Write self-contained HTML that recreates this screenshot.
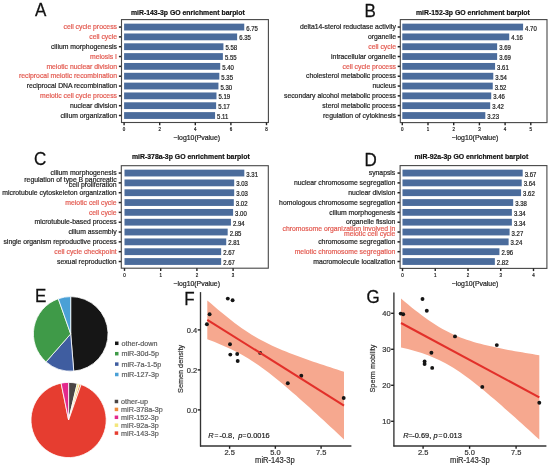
<!DOCTYPE html>
<html><head><meta charset="utf-8"><style>
html,body{margin:0;padding:0;background:#fff;width:550px;height:468px;overflow:hidden}
svg{display:block;will-change:transform;font-family:"Liberation Sans", sans-serif}
</style></head><body>
<svg width="550" height="468" viewBox="0 0 550 468">
<rect width="550" height="468" fill="#fff"/>
<rect x="124.10" y="23.65" width="120.15" height="6.80" fill="#4b6c9c"/>
<text x="0" y="0" transform="translate(246.25,30.60) scale(1,1.08)" font-size="6.0" fill="#1e1e1e" stroke="#1e1e1e" stroke-width="0.2" text-anchor="start" font-weight="normal" >6.75</text>
<line x1="118.90" y1="27.05" x2="121.50" y2="27.05" stroke="#222" stroke-width="1.5"/>
<text x="0" y="0" transform="translate(117.00,29.25) scale(1,1.08)" font-size="6.85" fill="#e35a50" stroke="#e35a50" stroke-width="0.2" text-anchor="end" font-weight="normal" >cell cycle process</text>
<rect x="124.10" y="33.48" width="113.03" height="6.80" fill="#4b6c9c"/>
<text x="0" y="0" transform="translate(239.13,40.43) scale(1,1.08)" font-size="6.0" fill="#1e1e1e" stroke="#1e1e1e" stroke-width="0.2" text-anchor="start" font-weight="normal" >6.35</text>
<line x1="118.90" y1="36.88" x2="121.50" y2="36.88" stroke="#222" stroke-width="1.5"/>
<text x="0" y="0" transform="translate(117.00,39.08) scale(1,1.08)" font-size="6.85" fill="#e35a50" stroke="#e35a50" stroke-width="0.2" text-anchor="end" font-weight="normal" >cell cycle</text>
<rect x="124.10" y="43.31" width="99.32" height="6.80" fill="#4b6c9c"/>
<text x="0" y="0" transform="translate(225.42,50.26) scale(1,1.08)" font-size="6.0" fill="#1e1e1e" stroke="#1e1e1e" stroke-width="0.2" text-anchor="start" font-weight="normal" >5.58</text>
<line x1="118.90" y1="46.71" x2="121.50" y2="46.71" stroke="#222" stroke-width="1.5"/>
<text x="0" y="0" transform="translate(117.00,48.91) scale(1,1.08)" font-size="6.85" fill="#1e1e1e" stroke="#1e1e1e" stroke-width="0.2" text-anchor="end" font-weight="normal" >cilium morphogenesis</text>
<rect x="124.10" y="53.14" width="98.79" height="6.80" fill="#4b6c9c"/>
<text x="0" y="0" transform="translate(224.89,60.09) scale(1,1.08)" font-size="6.0" fill="#1e1e1e" stroke="#1e1e1e" stroke-width="0.2" text-anchor="start" font-weight="normal" >5.55</text>
<line x1="118.90" y1="56.54" x2="121.50" y2="56.54" stroke="#222" stroke-width="1.5"/>
<text x="0" y="0" transform="translate(117.00,58.74) scale(1,1.08)" font-size="6.85" fill="#e35a50" stroke="#e35a50" stroke-width="0.2" text-anchor="end" font-weight="normal" >meiosis I</text>
<rect x="124.10" y="62.97" width="96.12" height="6.80" fill="#4b6c9c"/>
<text x="0" y="0" transform="translate(222.22,69.92) scale(1,1.08)" font-size="6.0" fill="#1e1e1e" stroke="#1e1e1e" stroke-width="0.2" text-anchor="start" font-weight="normal" >5.40</text>
<line x1="118.90" y1="66.37" x2="121.50" y2="66.37" stroke="#222" stroke-width="1.5"/>
<text x="0" y="0" transform="translate(117.00,68.57) scale(1,1.08)" font-size="6.85" fill="#e35a50" stroke="#e35a50" stroke-width="0.2" text-anchor="end" font-weight="normal" >meiotic nuclear division</text>
<rect x="124.10" y="72.80" width="95.23" height="6.80" fill="#4b6c9c"/>
<text x="0" y="0" transform="translate(221.33,79.75) scale(1,1.08)" font-size="6.0" fill="#1e1e1e" stroke="#1e1e1e" stroke-width="0.2" text-anchor="start" font-weight="normal" >5.35</text>
<line x1="118.90" y1="76.20" x2="121.50" y2="76.20" stroke="#222" stroke-width="1.5"/>
<text x="0" y="0" transform="translate(117.00,78.40) scale(1,1.08)" font-size="6.85" fill="#e35a50" stroke="#e35a50" stroke-width="0.2" text-anchor="end" font-weight="normal" >reciprocal meiotic recombination</text>
<rect x="124.10" y="82.63" width="94.34" height="6.80" fill="#4b6c9c"/>
<text x="0" y="0" transform="translate(220.44,89.58) scale(1,1.08)" font-size="6.0" fill="#1e1e1e" stroke="#1e1e1e" stroke-width="0.2" text-anchor="start" font-weight="normal" >5.30</text>
<line x1="118.90" y1="86.03" x2="121.50" y2="86.03" stroke="#222" stroke-width="1.5"/>
<text x="0" y="0" transform="translate(117.00,88.23) scale(1,1.08)" font-size="6.85" fill="#1e1e1e" stroke="#1e1e1e" stroke-width="0.2" text-anchor="end" font-weight="normal" >reciprocal DNA recombination</text>
<rect x="124.10" y="92.46" width="92.38" height="6.80" fill="#4b6c9c"/>
<text x="0" y="0" transform="translate(218.48,99.41) scale(1,1.08)" font-size="6.0" fill="#1e1e1e" stroke="#1e1e1e" stroke-width="0.2" text-anchor="start" font-weight="normal" >5.19</text>
<line x1="118.90" y1="95.86" x2="121.50" y2="95.86" stroke="#222" stroke-width="1.5"/>
<text x="0" y="0" transform="translate(117.00,98.06) scale(1,1.08)" font-size="6.85" fill="#e35a50" stroke="#e35a50" stroke-width="0.2" text-anchor="end" font-weight="normal" >meiotic cell cycle process</text>
<rect x="124.10" y="102.29" width="92.03" height="6.80" fill="#4b6c9c"/>
<text x="0" y="0" transform="translate(218.13,109.24) scale(1,1.08)" font-size="6.0" fill="#1e1e1e" stroke="#1e1e1e" stroke-width="0.2" text-anchor="start" font-weight="normal" >5.17</text>
<line x1="118.90" y1="105.69" x2="121.50" y2="105.69" stroke="#222" stroke-width="1.5"/>
<text x="0" y="0" transform="translate(117.00,107.89) scale(1,1.08)" font-size="6.85" fill="#1e1e1e" stroke="#1e1e1e" stroke-width="0.2" text-anchor="end" font-weight="normal" >nuclear division</text>
<rect x="124.10" y="112.12" width="90.96" height="6.80" fill="#4b6c9c"/>
<text x="0" y="0" transform="translate(217.06,119.07) scale(1,1.08)" font-size="6.0" fill="#1e1e1e" stroke="#1e1e1e" stroke-width="0.2" text-anchor="start" font-weight="normal" >5.11</text>
<line x1="118.90" y1="115.52" x2="121.50" y2="115.52" stroke="#222" stroke-width="1.5"/>
<text x="0" y="0" transform="translate(117.00,117.72) scale(1,1.08)" font-size="6.85" fill="#1e1e1e" stroke="#1e1e1e" stroke-width="0.2" text-anchor="end" font-weight="normal" >cilium organization</text>
<rect x="121.50" y="19.60" width="146.90" height="102.90" fill="none" stroke="#474747" stroke-width="1.1"/>
<line x1="124.10" y1="122.50" x2="124.10" y2="125.20" stroke="#222" stroke-width="1.4"/>
<text x="0" y="0" transform="translate(124.10,130.60) scale(1,1.08)" font-size="4.5" fill="#1e1e1e" stroke="#1e1e1e" stroke-width="0.2" text-anchor="middle" font-weight="normal" >0</text>
<line x1="159.70" y1="122.50" x2="159.70" y2="125.20" stroke="#222" stroke-width="1.4"/>
<text x="0" y="0" transform="translate(159.70,130.60) scale(1,1.08)" font-size="4.5" fill="#1e1e1e" stroke="#1e1e1e" stroke-width="0.2" text-anchor="middle" font-weight="normal" >2</text>
<line x1="195.30" y1="122.50" x2="195.30" y2="125.20" stroke="#222" stroke-width="1.4"/>
<text x="0" y="0" transform="translate(195.30,130.60) scale(1,1.08)" font-size="4.5" fill="#1e1e1e" stroke="#1e1e1e" stroke-width="0.2" text-anchor="middle" font-weight="normal" >4</text>
<line x1="230.90" y1="122.50" x2="230.90" y2="125.20" stroke="#222" stroke-width="1.4"/>
<text x="0" y="0" transform="translate(230.90,130.60) scale(1,1.08)" font-size="4.5" fill="#1e1e1e" stroke="#1e1e1e" stroke-width="0.2" text-anchor="middle" font-weight="normal" >6</text>
<line x1="266.50" y1="122.50" x2="266.50" y2="125.20" stroke="#222" stroke-width="1.4"/>
<text x="0" y="0" transform="translate(266.50,130.60) scale(1,1.08)" font-size="4.5" fill="#1e1e1e" stroke="#1e1e1e" stroke-width="0.2" text-anchor="middle" font-weight="normal" >8</text>
<text x="0" y="0" transform="translate(196.80,140.20) scale(1,1.08)" font-size="6.9" fill="#1e1e1e" stroke="#1e1e1e" stroke-width="0.2" text-anchor="middle" font-weight="normal" >−log10(Pvalue)</text>
<text x="0" y="0" transform="translate(130.90,15.30) scale(1,1.08)" font-size="6.88" fill="#111" stroke="#111" stroke-width="0.2" text-anchor="start" font-weight="bold" >miR-143-3p GO enrichment barplot</text>
<rect x="402.30" y="23.65" width="120.79" height="6.80" fill="#4b6c9c"/>
<text x="0" y="0" transform="translate(525.09,30.60) scale(1,1.08)" font-size="6.0" fill="#1e1e1e" stroke="#1e1e1e" stroke-width="0.2" text-anchor="start" font-weight="normal" >4.70</text>
<line x1="397.70" y1="27.05" x2="400.30" y2="27.05" stroke="#222" stroke-width="1.5"/>
<text x="0" y="0" transform="translate(396.00,29.25) scale(1,1.08)" font-size="6.85" fill="#1e1e1e" stroke="#1e1e1e" stroke-width="0.2" text-anchor="end" font-weight="normal" >delta14-sterol reductase activity</text>
<rect x="402.30" y="33.48" width="106.91" height="6.80" fill="#4b6c9c"/>
<text x="0" y="0" transform="translate(511.21,40.43) scale(1,1.08)" font-size="6.0" fill="#1e1e1e" stroke="#1e1e1e" stroke-width="0.2" text-anchor="start" font-weight="normal" >4.16</text>
<line x1="397.70" y1="36.88" x2="400.30" y2="36.88" stroke="#222" stroke-width="1.5"/>
<text x="0" y="0" transform="translate(396.00,39.08) scale(1,1.08)" font-size="6.85" fill="#1e1e1e" stroke="#1e1e1e" stroke-width="0.2" text-anchor="end" font-weight="normal" >organelle</text>
<rect x="402.30" y="43.31" width="94.83" height="6.80" fill="#4b6c9c"/>
<text x="0" y="0" transform="translate(499.13,50.26) scale(1,1.08)" font-size="6.0" fill="#1e1e1e" stroke="#1e1e1e" stroke-width="0.2" text-anchor="start" font-weight="normal" >3.69</text>
<line x1="397.70" y1="46.71" x2="400.30" y2="46.71" stroke="#222" stroke-width="1.5"/>
<text x="0" y="0" transform="translate(396.00,48.91) scale(1,1.08)" font-size="6.85" fill="#e35a50" stroke="#e35a50" stroke-width="0.2" text-anchor="end" font-weight="normal" >cell cycle</text>
<rect x="402.30" y="53.14" width="94.83" height="6.80" fill="#4b6c9c"/>
<text x="0" y="0" transform="translate(499.13,60.09) scale(1,1.08)" font-size="6.0" fill="#1e1e1e" stroke="#1e1e1e" stroke-width="0.2" text-anchor="start" font-weight="normal" >3.69</text>
<line x1="397.70" y1="56.54" x2="400.30" y2="56.54" stroke="#222" stroke-width="1.5"/>
<text x="0" y="0" transform="translate(396.00,58.74) scale(1,1.08)" font-size="6.85" fill="#1e1e1e" stroke="#1e1e1e" stroke-width="0.2" text-anchor="end" font-weight="normal" >intracellular organelle</text>
<rect x="402.30" y="62.97" width="92.78" height="6.80" fill="#4b6c9c"/>
<text x="0" y="0" transform="translate(497.08,69.92) scale(1,1.08)" font-size="6.0" fill="#1e1e1e" stroke="#1e1e1e" stroke-width="0.2" text-anchor="start" font-weight="normal" >3.61</text>
<line x1="397.70" y1="66.37" x2="400.30" y2="66.37" stroke="#222" stroke-width="1.5"/>
<text x="0" y="0" transform="translate(396.00,68.57) scale(1,1.08)" font-size="6.85" fill="#e35a50" stroke="#e35a50" stroke-width="0.2" text-anchor="end" font-weight="normal" >cell cycle process</text>
<rect x="402.30" y="72.80" width="90.98" height="6.80" fill="#4b6c9c"/>
<text x="0" y="0" transform="translate(495.28,79.75) scale(1,1.08)" font-size="6.0" fill="#1e1e1e" stroke="#1e1e1e" stroke-width="0.2" text-anchor="start" font-weight="normal" >3.54</text>
<line x1="397.70" y1="76.20" x2="400.30" y2="76.20" stroke="#222" stroke-width="1.5"/>
<text x="0" y="0" transform="translate(396.00,78.40) scale(1,1.08)" font-size="6.85" fill="#1e1e1e" stroke="#1e1e1e" stroke-width="0.2" text-anchor="end" font-weight="normal" >cholesterol metabolic process</text>
<rect x="402.30" y="82.63" width="90.46" height="6.80" fill="#4b6c9c"/>
<text x="0" y="0" transform="translate(494.76,89.58) scale(1,1.08)" font-size="6.0" fill="#1e1e1e" stroke="#1e1e1e" stroke-width="0.2" text-anchor="start" font-weight="normal" >3.52</text>
<line x1="397.70" y1="86.03" x2="400.30" y2="86.03" stroke="#222" stroke-width="1.5"/>
<text x="0" y="0" transform="translate(396.00,88.23) scale(1,1.08)" font-size="6.85" fill="#1e1e1e" stroke="#1e1e1e" stroke-width="0.2" text-anchor="end" font-weight="normal" >nucleus</text>
<rect x="402.30" y="92.46" width="88.92" height="6.80" fill="#4b6c9c"/>
<text x="0" y="0" transform="translate(493.22,99.41) scale(1,1.08)" font-size="6.0" fill="#1e1e1e" stroke="#1e1e1e" stroke-width="0.2" text-anchor="start" font-weight="normal" >3.46</text>
<line x1="397.70" y1="95.86" x2="400.30" y2="95.86" stroke="#222" stroke-width="1.5"/>
<text x="0" y="0" transform="translate(396.00,98.06) scale(1,1.08)" font-size="6.85" fill="#1e1e1e" stroke="#1e1e1e" stroke-width="0.2" text-anchor="end" font-weight="normal" >secondary alcohol metabolic process</text>
<rect x="402.30" y="102.29" width="87.89" height="6.80" fill="#4b6c9c"/>
<text x="0" y="0" transform="translate(492.19,109.24) scale(1,1.08)" font-size="6.0" fill="#1e1e1e" stroke="#1e1e1e" stroke-width="0.2" text-anchor="start" font-weight="normal" >3.42</text>
<line x1="397.70" y1="105.69" x2="400.30" y2="105.69" stroke="#222" stroke-width="1.5"/>
<text x="0" y="0" transform="translate(396.00,107.89) scale(1,1.08)" font-size="6.85" fill="#1e1e1e" stroke="#1e1e1e" stroke-width="0.2" text-anchor="end" font-weight="normal" >sterol metabolic process</text>
<rect x="402.30" y="112.12" width="83.01" height="6.80" fill="#4b6c9c"/>
<text x="0" y="0" transform="translate(487.31,119.07) scale(1,1.08)" font-size="6.0" fill="#1e1e1e" stroke="#1e1e1e" stroke-width="0.2" text-anchor="start" font-weight="normal" >3.23</text>
<line x1="397.70" y1="115.52" x2="400.30" y2="115.52" stroke="#222" stroke-width="1.5"/>
<text x="0" y="0" transform="translate(396.00,117.72) scale(1,1.08)" font-size="6.85" fill="#1e1e1e" stroke="#1e1e1e" stroke-width="0.2" text-anchor="end" font-weight="normal" >regulation of cytokinesis</text>
<rect x="400.30" y="19.60" width="146.70" height="103.00" fill="none" stroke="#474747" stroke-width="1.1"/>
<line x1="402.30" y1="122.60" x2="402.30" y2="125.30" stroke="#222" stroke-width="1.4"/>
<text x="0" y="0" transform="translate(402.30,130.60) scale(1,1.08)" font-size="4.5" fill="#1e1e1e" stroke="#1e1e1e" stroke-width="0.2" text-anchor="middle" font-weight="normal" >0</text>
<line x1="428.00" y1="122.60" x2="428.00" y2="125.30" stroke="#222" stroke-width="1.4"/>
<text x="0" y="0" transform="translate(428.00,130.60) scale(1,1.08)" font-size="4.5" fill="#1e1e1e" stroke="#1e1e1e" stroke-width="0.2" text-anchor="middle" font-weight="normal" >1</text>
<line x1="453.70" y1="122.60" x2="453.70" y2="125.30" stroke="#222" stroke-width="1.4"/>
<text x="0" y="0" transform="translate(453.70,130.60) scale(1,1.08)" font-size="4.5" fill="#1e1e1e" stroke="#1e1e1e" stroke-width="0.2" text-anchor="middle" font-weight="normal" >2</text>
<line x1="479.40" y1="122.60" x2="479.40" y2="125.30" stroke="#222" stroke-width="1.4"/>
<text x="0" y="0" transform="translate(479.40,130.60) scale(1,1.08)" font-size="4.5" fill="#1e1e1e" stroke="#1e1e1e" stroke-width="0.2" text-anchor="middle" font-weight="normal" >3</text>
<line x1="505.10" y1="122.60" x2="505.10" y2="125.30" stroke="#222" stroke-width="1.4"/>
<text x="0" y="0" transform="translate(505.10,130.60) scale(1,1.08)" font-size="4.5" fill="#1e1e1e" stroke="#1e1e1e" stroke-width="0.2" text-anchor="middle" font-weight="normal" >4</text>
<line x1="530.80" y1="122.60" x2="530.80" y2="125.30" stroke="#222" stroke-width="1.4"/>
<text x="0" y="0" transform="translate(530.80,130.60) scale(1,1.08)" font-size="4.5" fill="#1e1e1e" stroke="#1e1e1e" stroke-width="0.2" text-anchor="middle" font-weight="normal" >5</text>
<text x="0" y="0" transform="translate(475.00,140.20) scale(1,1.08)" font-size="6.9" fill="#1e1e1e" stroke="#1e1e1e" stroke-width="0.2" text-anchor="middle" font-weight="normal" >−log10(Pvalue)</text>
<text x="0" y="0" transform="translate(416.00,15.30) scale(1,1.08)" font-size="6.88" fill="#111" stroke="#111" stroke-width="0.2" text-anchor="start" font-weight="bold" >miR-152-3p GO enrichment barplot</text>
<rect x="124.50" y="169.65" width="119.82" height="6.80" fill="#4b6c9c"/>
<text x="0" y="0" transform="translate(246.32,176.60) scale(1,1.08)" font-size="6.0" fill="#1e1e1e" stroke="#1e1e1e" stroke-width="0.2" text-anchor="start" font-weight="normal" >3.31</text>
<line x1="118.70" y1="173.05" x2="121.30" y2="173.05" stroke="#222" stroke-width="1.5"/>
<text x="0" y="0" transform="translate(116.60,175.25) scale(1,1.08)" font-size="6.85" fill="#1e1e1e" stroke="#1e1e1e" stroke-width="0.2" text-anchor="end" font-weight="normal" >cilium morphogenesis</text>
<rect x="124.50" y="179.48" width="109.69" height="6.80" fill="#4b6c9c"/>
<text x="0" y="0" transform="translate(236.19,186.43) scale(1,1.08)" font-size="6.0" fill="#1e1e1e" stroke="#1e1e1e" stroke-width="0.2" text-anchor="start" font-weight="normal" >3.03</text>
<line x1="118.70" y1="182.88" x2="121.30" y2="182.88" stroke="#222" stroke-width="1.5"/>
<text x="0" y="0" transform="translate(116.60,181.53) scale(1,1.08)" font-size="6.85" fill="#1e1e1e" stroke="#1e1e1e" stroke-width="0.2" text-anchor="end" font-weight="normal" >regulation of type B pancreatic</text>
<text x="0" y="0" transform="translate(116.60,187.23) scale(1,1.08)" font-size="6.85" fill="#1e1e1e" stroke="#1e1e1e" stroke-width="0.2" text-anchor="end" font-weight="normal" >cell proliferation</text>
<rect x="124.50" y="189.31" width="109.69" height="6.80" fill="#4b6c9c"/>
<text x="0" y="0" transform="translate(236.19,196.26) scale(1,1.08)" font-size="6.0" fill="#1e1e1e" stroke="#1e1e1e" stroke-width="0.2" text-anchor="start" font-weight="normal" >3.03</text>
<line x1="118.70" y1="192.71" x2="121.30" y2="192.71" stroke="#222" stroke-width="1.5"/>
<text x="0" y="0" transform="translate(116.60,194.91) scale(1,1.08)" font-size="6.85" fill="#1e1e1e" stroke="#1e1e1e" stroke-width="0.2" text-anchor="end" font-weight="normal" >microtubule cytoskeleton organization</text>
<rect x="124.50" y="199.14" width="109.32" height="6.80" fill="#4b6c9c"/>
<text x="0" y="0" transform="translate(235.82,206.09) scale(1,1.08)" font-size="6.0" fill="#1e1e1e" stroke="#1e1e1e" stroke-width="0.2" text-anchor="start" font-weight="normal" >3.02</text>
<line x1="118.70" y1="202.54" x2="121.30" y2="202.54" stroke="#222" stroke-width="1.5"/>
<text x="0" y="0" transform="translate(116.60,204.74) scale(1,1.08)" font-size="6.85" fill="#e35a50" stroke="#e35a50" stroke-width="0.2" text-anchor="end" font-weight="normal" >meiotic cell cycle</text>
<rect x="124.50" y="208.97" width="108.60" height="6.80" fill="#4b6c9c"/>
<text x="0" y="0" transform="translate(235.10,215.92) scale(1,1.08)" font-size="6.0" fill="#1e1e1e" stroke="#1e1e1e" stroke-width="0.2" text-anchor="start" font-weight="normal" >3.00</text>
<line x1="118.70" y1="212.37" x2="121.30" y2="212.37" stroke="#222" stroke-width="1.5"/>
<text x="0" y="0" transform="translate(116.60,214.57) scale(1,1.08)" font-size="6.85" fill="#e35a50" stroke="#e35a50" stroke-width="0.2" text-anchor="end" font-weight="normal" >cell cycle</text>
<rect x="124.50" y="218.80" width="106.43" height="6.80" fill="#4b6c9c"/>
<text x="0" y="0" transform="translate(232.93,225.75) scale(1,1.08)" font-size="6.0" fill="#1e1e1e" stroke="#1e1e1e" stroke-width="0.2" text-anchor="start" font-weight="normal" >2.94</text>
<line x1="118.70" y1="222.20" x2="121.30" y2="222.20" stroke="#222" stroke-width="1.5"/>
<text x="0" y="0" transform="translate(116.60,224.40) scale(1,1.08)" font-size="6.85" fill="#1e1e1e" stroke="#1e1e1e" stroke-width="0.2" text-anchor="end" font-weight="normal" >microtubule-based process</text>
<rect x="124.50" y="228.63" width="103.17" height="6.80" fill="#4b6c9c"/>
<text x="0" y="0" transform="translate(229.67,235.58) scale(1,1.08)" font-size="6.0" fill="#1e1e1e" stroke="#1e1e1e" stroke-width="0.2" text-anchor="start" font-weight="normal" >2.85</text>
<line x1="118.70" y1="232.03" x2="121.30" y2="232.03" stroke="#222" stroke-width="1.5"/>
<text x="0" y="0" transform="translate(116.60,234.23) scale(1,1.08)" font-size="6.85" fill="#1e1e1e" stroke="#1e1e1e" stroke-width="0.2" text-anchor="end" font-weight="normal" >cilium assembly</text>
<rect x="124.50" y="238.46" width="101.72" height="6.80" fill="#4b6c9c"/>
<text x="0" y="0" transform="translate(228.22,245.41) scale(1,1.08)" font-size="6.0" fill="#1e1e1e" stroke="#1e1e1e" stroke-width="0.2" text-anchor="start" font-weight="normal" >2.81</text>
<line x1="118.70" y1="241.86" x2="121.30" y2="241.86" stroke="#222" stroke-width="1.5"/>
<text x="0" y="0" transform="translate(116.60,244.06) scale(1,1.08)" font-size="6.85" fill="#1e1e1e" stroke="#1e1e1e" stroke-width="0.2" text-anchor="end" font-weight="normal" >single organism reproductive process</text>
<rect x="124.50" y="248.29" width="96.65" height="6.80" fill="#4b6c9c"/>
<text x="0" y="0" transform="translate(223.15,255.24) scale(1,1.08)" font-size="6.0" fill="#1e1e1e" stroke="#1e1e1e" stroke-width="0.2" text-anchor="start" font-weight="normal" >2.67</text>
<line x1="118.70" y1="251.69" x2="121.30" y2="251.69" stroke="#222" stroke-width="1.5"/>
<text x="0" y="0" transform="translate(116.60,253.89) scale(1,1.08)" font-size="6.85" fill="#e35a50" stroke="#e35a50" stroke-width="0.2" text-anchor="end" font-weight="normal" >cell cycle checkpoint</text>
<rect x="124.50" y="258.12" width="96.65" height="6.80" fill="#4b6c9c"/>
<text x="0" y="0" transform="translate(223.15,265.07) scale(1,1.08)" font-size="6.0" fill="#1e1e1e" stroke="#1e1e1e" stroke-width="0.2" text-anchor="start" font-weight="normal" >2.67</text>
<line x1="118.70" y1="261.52" x2="121.30" y2="261.52" stroke="#222" stroke-width="1.5"/>
<text x="0" y="0" transform="translate(116.60,263.72) scale(1,1.08)" font-size="6.85" fill="#1e1e1e" stroke="#1e1e1e" stroke-width="0.2" text-anchor="end" font-weight="normal" >sexual reproduction</text>
<rect x="121.30" y="165.70" width="147.00" height="102.50" fill="none" stroke="#474747" stroke-width="1.1"/>
<line x1="124.50" y1="268.20" x2="124.50" y2="270.90" stroke="#222" stroke-width="1.4"/>
<text x="0" y="0" transform="translate(124.50,276.50) scale(1,1.08)" font-size="4.5" fill="#1e1e1e" stroke="#1e1e1e" stroke-width="0.2" text-anchor="middle" font-weight="normal" >0</text>
<line x1="160.70" y1="268.20" x2="160.70" y2="270.90" stroke="#222" stroke-width="1.4"/>
<text x="0" y="0" transform="translate(160.70,276.50) scale(1,1.08)" font-size="4.5" fill="#1e1e1e" stroke="#1e1e1e" stroke-width="0.2" text-anchor="middle" font-weight="normal" >1</text>
<line x1="196.90" y1="268.20" x2="196.90" y2="270.90" stroke="#222" stroke-width="1.4"/>
<text x="0" y="0" transform="translate(196.90,276.50) scale(1,1.08)" font-size="4.5" fill="#1e1e1e" stroke="#1e1e1e" stroke-width="0.2" text-anchor="middle" font-weight="normal" >2</text>
<line x1="233.10" y1="268.20" x2="233.10" y2="270.90" stroke="#222" stroke-width="1.4"/>
<text x="0" y="0" transform="translate(233.10,276.50) scale(1,1.08)" font-size="4.5" fill="#1e1e1e" stroke="#1e1e1e" stroke-width="0.2" text-anchor="middle" font-weight="normal" >3</text>
<text x="0" y="0" transform="translate(196.70,286.00) scale(1,1.08)" font-size="6.9" fill="#1e1e1e" stroke="#1e1e1e" stroke-width="0.2" text-anchor="middle" font-weight="normal" >−log10(Pvalue)</text>
<text x="0" y="0" transform="translate(132.00,158.90) scale(1,1.08)" font-size="6.88" fill="#111" stroke="#111" stroke-width="0.2" text-anchor="start" font-weight="bold" >miR-378a-3p GO enrichment barplot</text>
<rect x="402.50" y="169.65" width="120.19" height="6.80" fill="#4b6c9c"/>
<text x="0" y="0" transform="translate(524.69,176.60) scale(1,1.08)" font-size="6.0" fill="#1e1e1e" stroke="#1e1e1e" stroke-width="0.2" text-anchor="start" font-weight="normal" >3.67</text>
<line x1="397.50" y1="173.05" x2="400.10" y2="173.05" stroke="#222" stroke-width="1.5"/>
<text x="0" y="0" transform="translate(395.30,175.25) scale(1,1.08)" font-size="6.85" fill="#1e1e1e" stroke="#1e1e1e" stroke-width="0.2" text-anchor="end" font-weight="normal" >synapsis</text>
<rect x="402.50" y="179.48" width="119.21" height="6.80" fill="#4b6c9c"/>
<text x="0" y="0" transform="translate(523.71,186.43) scale(1,1.08)" font-size="6.0" fill="#1e1e1e" stroke="#1e1e1e" stroke-width="0.2" text-anchor="start" font-weight="normal" >3.64</text>
<line x1="397.50" y1="182.88" x2="400.10" y2="182.88" stroke="#222" stroke-width="1.5"/>
<text x="0" y="0" transform="translate(395.30,185.08) scale(1,1.08)" font-size="6.85" fill="#1e1e1e" stroke="#1e1e1e" stroke-width="0.2" text-anchor="end" font-weight="normal" >nuclear chromosome segregation</text>
<rect x="402.50" y="189.31" width="118.56" height="6.80" fill="#4b6c9c"/>
<text x="0" y="0" transform="translate(523.06,196.26) scale(1,1.08)" font-size="6.0" fill="#1e1e1e" stroke="#1e1e1e" stroke-width="0.2" text-anchor="start" font-weight="normal" >3.62</text>
<line x1="397.50" y1="192.71" x2="400.10" y2="192.71" stroke="#222" stroke-width="1.5"/>
<text x="0" y="0" transform="translate(395.30,194.91) scale(1,1.08)" font-size="6.85" fill="#1e1e1e" stroke="#1e1e1e" stroke-width="0.2" text-anchor="end" font-weight="normal" >nuclear division</text>
<rect x="402.50" y="199.14" width="110.69" height="6.80" fill="#4b6c9c"/>
<text x="0" y="0" transform="translate(515.19,206.09) scale(1,1.08)" font-size="6.0" fill="#1e1e1e" stroke="#1e1e1e" stroke-width="0.2" text-anchor="start" font-weight="normal" >3.38</text>
<line x1="397.50" y1="202.54" x2="400.10" y2="202.54" stroke="#222" stroke-width="1.5"/>
<text x="0" y="0" transform="translate(395.30,204.74) scale(1,1.08)" font-size="6.85" fill="#1e1e1e" stroke="#1e1e1e" stroke-width="0.2" text-anchor="end" font-weight="normal" >homologous chromosome segregation</text>
<rect x="402.50" y="208.97" width="109.38" height="6.80" fill="#4b6c9c"/>
<text x="0" y="0" transform="translate(513.88,215.92) scale(1,1.08)" font-size="6.0" fill="#1e1e1e" stroke="#1e1e1e" stroke-width="0.2" text-anchor="start" font-weight="normal" >3.34</text>
<line x1="397.50" y1="212.37" x2="400.10" y2="212.37" stroke="#222" stroke-width="1.5"/>
<text x="0" y="0" transform="translate(395.30,214.57) scale(1,1.08)" font-size="6.85" fill="#1e1e1e" stroke="#1e1e1e" stroke-width="0.2" text-anchor="end" font-weight="normal" >cilium morphogenesis</text>
<rect x="402.50" y="218.80" width="109.38" height="6.80" fill="#4b6c9c"/>
<text x="0" y="0" transform="translate(513.88,225.75) scale(1,1.08)" font-size="6.0" fill="#1e1e1e" stroke="#1e1e1e" stroke-width="0.2" text-anchor="start" font-weight="normal" >3.34</text>
<line x1="397.50" y1="222.20" x2="400.10" y2="222.20" stroke="#222" stroke-width="1.5"/>
<text x="0" y="0" transform="translate(395.30,224.40) scale(1,1.08)" font-size="6.85" fill="#1e1e1e" stroke="#1e1e1e" stroke-width="0.2" text-anchor="end" font-weight="normal" >organelle fission</text>
<rect x="402.50" y="228.63" width="107.09" height="6.80" fill="#4b6c9c"/>
<text x="0" y="0" transform="translate(511.59,235.58) scale(1,1.08)" font-size="6.0" fill="#1e1e1e" stroke="#1e1e1e" stroke-width="0.2" text-anchor="start" font-weight="normal" >3.27</text>
<line x1="397.50" y1="232.03" x2="400.10" y2="232.03" stroke="#222" stroke-width="1.5"/>
<text x="0" y="0" transform="translate(395.30,230.68) scale(1,1.08)" font-size="6.85" fill="#e35a50" stroke="#e35a50" stroke-width="0.2" text-anchor="end" font-weight="normal" >chromosome organization involved in</text>
<text x="0" y="0" transform="translate(395.30,236.38) scale(1,1.08)" font-size="6.85" fill="#e35a50" stroke="#e35a50" stroke-width="0.2" text-anchor="end" font-weight="normal" >meiotic cell cycle</text>
<rect x="402.50" y="238.46" width="106.11" height="6.80" fill="#4b6c9c"/>
<text x="0" y="0" transform="translate(510.61,245.41) scale(1,1.08)" font-size="6.0" fill="#1e1e1e" stroke="#1e1e1e" stroke-width="0.2" text-anchor="start" font-weight="normal" >3.24</text>
<line x1="397.50" y1="241.86" x2="400.10" y2="241.86" stroke="#222" stroke-width="1.5"/>
<text x="0" y="0" transform="translate(395.30,244.06) scale(1,1.08)" font-size="6.85" fill="#1e1e1e" stroke="#1e1e1e" stroke-width="0.2" text-anchor="end" font-weight="normal" >chromosome segregation</text>
<rect x="402.50" y="248.29" width="96.94" height="6.80" fill="#4b6c9c"/>
<text x="0" y="0" transform="translate(501.44,255.24) scale(1,1.08)" font-size="6.0" fill="#1e1e1e" stroke="#1e1e1e" stroke-width="0.2" text-anchor="start" font-weight="normal" >2.96</text>
<line x1="397.50" y1="251.69" x2="400.10" y2="251.69" stroke="#222" stroke-width="1.5"/>
<text x="0" y="0" transform="translate(395.30,253.89) scale(1,1.08)" font-size="6.85" fill="#e35a50" stroke="#e35a50" stroke-width="0.2" text-anchor="end" font-weight="normal" >meiotic chromosome segregation</text>
<rect x="402.50" y="258.12" width="92.35" height="6.80" fill="#4b6c9c"/>
<text x="0" y="0" transform="translate(496.86,265.07) scale(1,1.08)" font-size="6.0" fill="#1e1e1e" stroke="#1e1e1e" stroke-width="0.2" text-anchor="start" font-weight="normal" >2.82</text>
<line x1="397.50" y1="261.52" x2="400.10" y2="261.52" stroke="#222" stroke-width="1.5"/>
<text x="0" y="0" transform="translate(395.30,263.72) scale(1,1.08)" font-size="6.85" fill="#1e1e1e" stroke="#1e1e1e" stroke-width="0.2" text-anchor="end" font-weight="normal" >macromolecule localization</text>
<rect x="400.10" y="165.60" width="146.80" height="102.80" fill="none" stroke="#474747" stroke-width="1.1"/>
<line x1="402.50" y1="268.40" x2="402.50" y2="271.10" stroke="#222" stroke-width="1.4"/>
<text x="0" y="0" transform="translate(402.50,276.50) scale(1,1.08)" font-size="4.5" fill="#1e1e1e" stroke="#1e1e1e" stroke-width="0.2" text-anchor="middle" font-weight="normal" >0</text>
<line x1="435.25" y1="268.40" x2="435.25" y2="271.10" stroke="#222" stroke-width="1.4"/>
<text x="0" y="0" transform="translate(435.25,276.50) scale(1,1.08)" font-size="4.5" fill="#1e1e1e" stroke="#1e1e1e" stroke-width="0.2" text-anchor="middle" font-weight="normal" >1</text>
<line x1="468.00" y1="268.40" x2="468.00" y2="271.10" stroke="#222" stroke-width="1.4"/>
<text x="0" y="0" transform="translate(468.00,276.50) scale(1,1.08)" font-size="4.5" fill="#1e1e1e" stroke="#1e1e1e" stroke-width="0.2" text-anchor="middle" font-weight="normal" >2</text>
<line x1="500.75" y1="268.40" x2="500.75" y2="271.10" stroke="#222" stroke-width="1.4"/>
<text x="0" y="0" transform="translate(500.75,276.50) scale(1,1.08)" font-size="4.5" fill="#1e1e1e" stroke="#1e1e1e" stroke-width="0.2" text-anchor="middle" font-weight="normal" >3</text>
<line x1="533.50" y1="268.40" x2="533.50" y2="271.10" stroke="#222" stroke-width="1.4"/>
<text x="0" y="0" transform="translate(533.50,276.50) scale(1,1.08)" font-size="4.5" fill="#1e1e1e" stroke="#1e1e1e" stroke-width="0.2" text-anchor="middle" font-weight="normal" >4</text>
<text x="0" y="0" transform="translate(475.00,286.00) scale(1,1.08)" font-size="6.9" fill="#1e1e1e" stroke="#1e1e1e" stroke-width="0.2" text-anchor="middle" font-weight="normal" >−log10(Pvalue)</text>
<text x="0" y="0" transform="translate(414.40,158.90) scale(1,1.08)" font-size="6.88" fill="#111" stroke="#111" stroke-width="0.2" text-anchor="start" font-weight="bold" >miR-92a-3p GO enrichment barplot</text>
<text x="0" y="0" font-size="17" fill="#111" stroke="#111" stroke-width="0.25" transform="translate(35.0,15.9) scale(1,1.07)">A</text>
<text x="0" y="0" font-size="17" fill="#111" stroke="#111" stroke-width="0.25" transform="translate(364.4,16.5) scale(1,1.07)">B</text>
<text x="0" y="0" font-size="17" fill="#111" stroke="#111" stroke-width="0.25" transform="translate(33.9,165.4) scale(1,1.07)">C</text>
<text x="0" y="0" font-size="17" fill="#111" stroke="#111" stroke-width="0.25" transform="translate(364.4,165.5) scale(1,1.07)">D</text>
<text x="0" y="0" font-size="17" fill="#111" stroke="#111" stroke-width="0.25" transform="translate(35.0,302.2) scale(1,1.07)">E</text>
<text x="0" y="0" font-size="17" fill="#111" stroke="#111" stroke-width="0.25" transform="translate(184.3,305.1) scale(1,1.07)">F</text>
<text x="0" y="0" font-size="17" fill="#111" stroke="#111" stroke-width="0.25" transform="translate(366.6,302.8) scale(1,1.07)">G</text>
<path d="M70.70,333.90 L70.70,296.60 A37.3,37.3 0 0 1 73.74,371.08 Z" fill="#161616" stroke="#fff" stroke-width="0.8" stroke-linejoin="round"/>
<path d="M70.70,333.90 L73.74,371.08 A37.3,37.3 0 0 1 46.03,361.88 Z" fill="#3f5da0" stroke="#fff" stroke-width="0.8" stroke-linejoin="round"/>
<path d="M70.70,333.90 L46.03,361.88 A37.3,37.3 0 0 1 58.29,298.73 Z" fill="#3f9a48" stroke="#fff" stroke-width="0.8" stroke-linejoin="round"/>
<path d="M70.70,333.90 L58.29,298.73 A37.3,37.3 0 0 1 70.70,296.60 Z" fill="#4aa0d6" stroke="#fff" stroke-width="0.8" stroke-linejoin="round"/>
<path d="M68.60,420.00 L68.60,382.40 A37.6,37.6 0 0 1 77.26,383.41 Z" fill="#4a4545" stroke="#fff" stroke-width="0.8" stroke-linejoin="round"/>
<path d="M68.60,420.00 L77.26,383.41 A37.6,37.6 0 0 1 79.32,383.96 Z" fill="#f3e67c" stroke="#fff" stroke-width="0.8" stroke-linejoin="round"/>
<path d="M68.60,420.00 L79.32,383.96 A37.6,37.6 0 0 1 81.11,384.54 Z" fill="#ee8a3a" stroke="#fff" stroke-width="0.8" stroke-linejoin="round"/>
<path d="M68.60,420.00 L81.11,384.54 A37.6,37.6 0 1 1 61.09,383.16 Z" fill="#e63d30" stroke="#fff" stroke-width="0.8" stroke-linejoin="round"/>
<path d="M68.60,420.00 L61.09,383.16 A37.6,37.6 0 0 1 68.60,382.40 Z" fill="#e3288c" stroke="#fff" stroke-width="0.8" stroke-linejoin="round"/>
<rect x="115.00" y="341.55" width="3.5" height="3.5" fill="#161616"/>
<text x="0" y="0" transform="translate(121.40,345.90) scale(1,1.08)" font-size="7.2" fill="#5c5c5c" stroke="#5c5c5c" stroke-width="0.2" text-anchor="start" font-weight="normal" >other-down</text>
<rect x="115.00" y="351.95" width="3.5" height="3.5" fill="#3f9a48"/>
<text x="0" y="0" transform="translate(121.40,356.30) scale(1,1.08)" font-size="7.2" fill="#5c5c5c" stroke="#5c5c5c" stroke-width="0.2" text-anchor="start" font-weight="normal" >miR-30d-5p</text>
<rect x="115.00" y="362.35" width="3.5" height="3.5" fill="#3f5da0"/>
<text x="0" y="0" transform="translate(121.40,366.70) scale(1,1.08)" font-size="7.2" fill="#5c5c5c" stroke="#5c5c5c" stroke-width="0.2" text-anchor="start" font-weight="normal" >miR-7a-1-5p</text>
<rect x="115.00" y="372.75" width="3.5" height="3.5" fill="#4aa0d6"/>
<text x="0" y="0" transform="translate(121.40,377.10) scale(1,1.08)" font-size="7.2" fill="#5c5c5c" stroke="#5c5c5c" stroke-width="0.2" text-anchor="start" font-weight="normal" >miR-127-3p</text>
<rect x="114.70" y="399.75" width="3.5" height="3.5" fill="#4a4545"/>
<text x="0" y="0" transform="translate(121.10,404.10) scale(1,1.08)" font-size="7.2" fill="#5c5c5c" stroke="#5c5c5c" stroke-width="0.2" text-anchor="start" font-weight="normal" >other-up</text>
<rect x="114.70" y="407.65" width="3.5" height="3.5" fill="#ee8a3a"/>
<text x="0" y="0" transform="translate(121.10,412.00) scale(1,1.08)" font-size="7.2" fill="#5c5c5c" stroke="#5c5c5c" stroke-width="0.2" text-anchor="start" font-weight="normal" >miR-378a-3p</text>
<rect x="114.70" y="415.55" width="3.5" height="3.5" fill="#e3288c"/>
<text x="0" y="0" transform="translate(121.10,419.90) scale(1,1.08)" font-size="7.2" fill="#5c5c5c" stroke="#5c5c5c" stroke-width="0.2" text-anchor="start" font-weight="normal" >miR-152-3p</text>
<rect x="114.70" y="423.45" width="3.5" height="3.5" fill="#f3e67c"/>
<text x="0" y="0" transform="translate(121.10,427.80) scale(1,1.08)" font-size="7.2" fill="#5c5c5c" stroke="#5c5c5c" stroke-width="0.2" text-anchor="start" font-weight="normal" >miR-92a-3p</text>
<rect x="114.70" y="431.35" width="3.5" height="3.5" fill="#e63d30"/>
<text x="0" y="0" transform="translate(121.10,435.70) scale(1,1.08)" font-size="7.2" fill="#5c5c5c" stroke="#5c5c5c" stroke-width="0.2" text-anchor="start" font-weight="normal" >miR-143-3p</text>
<polygon points="207.30,300.40 210.72,303.37 214.14,306.31 217.55,309.21 220.97,312.07 224.39,314.87 227.81,317.62 231.22,320.30 234.64,322.91 238.06,325.44 241.48,327.88 244.89,330.24 248.31,332.49 251.73,334.65 255.15,336.71 258.56,338.67 261.98,340.53 265.40,342.31 268.81,344.01 272.23,345.64 275.65,347.19 279.07,348.69 282.49,350.14 285.90,351.54 289.32,352.90 292.74,354.22 296.15,355.52 299.57,356.78 302.99,358.03 306.41,359.25 309.83,360.45 313.24,361.63 316.66,362.80 320.08,363.96 323.50,365.11 326.91,366.24 330.33,367.37 333.75,368.49 337.16,369.60 340.58,370.70 344.00,371.80 344.00,439.40 340.58,436.21 337.16,433.02 333.75,429.84 330.33,426.67 326.91,423.51 323.50,420.35 320.08,417.21 316.66,414.08 313.24,410.96 309.83,407.85 306.41,404.76 302.99,401.69 299.57,398.65 296.15,395.62 292.74,392.63 289.32,389.66 285.90,386.73 282.49,383.84 279.07,381.00 275.65,378.21 272.23,375.47 268.81,372.81 265.40,370.22 261.98,367.71 258.56,365.28 255.15,362.95 251.73,360.72 248.31,358.59 244.89,356.55 241.48,354.62 238.06,352.77 234.64,351.01 231.22,349.33 227.81,347.72 224.39,346.18 220.97,344.69 217.55,343.26 214.14,341.87 210.72,340.52 207.30,339.20" fill="#f6a88f"/>
<circle cx="227.8" cy="298.6" r="1.95" fill="#151515"/>
<circle cx="232.6" cy="300.3" r="1.95" fill="#151515"/>
<circle cx="209.6" cy="314.2" r="1.95" fill="#151515"/>
<circle cx="206.9" cy="324.2" r="1.95" fill="#151515"/>
<circle cx="230.0" cy="344.3" r="1.95" fill="#151515"/>
<circle cx="230.3" cy="354.6" r="1.95" fill="#151515"/>
<circle cx="237.2" cy="354.0" r="1.95" fill="#151515"/>
<circle cx="237.7" cy="361.0" r="1.95" fill="#151515"/>
<circle cx="260.2" cy="352.9" r="1.95" fill="#151515"/>
<circle cx="287.8" cy="383.2" r="1.95" fill="#151515"/>
<circle cx="301.3" cy="375.7" r="1.95" fill="#151515"/>
<circle cx="343.7" cy="398.0" r="1.95" fill="#151515"/>
<line x1="207.3" y1="319.8" x2="344.0" y2="405.6" stroke="#e2302a" stroke-width="2.1"/>
<line x1="200.5" y1="292.1" x2="200.5" y2="446.6" stroke="#333" stroke-width="1.35"/>
<line x1="200.0" y1="446.0" x2="351.4" y2="446.0" stroke="#333" stroke-width="1.35"/>
<line x1="197.7" y1="409.90" x2="200.5" y2="409.90" stroke="#222" stroke-width="1.4"/>
<text x="0" y="0" transform="translate(197.20,412.80) scale(1,1.08)" font-size="7.5" fill="#333" stroke="#333" stroke-width="0.2" text-anchor="end" font-weight="normal" >0.0</text>
<line x1="197.7" y1="369.90" x2="200.5" y2="369.90" stroke="#222" stroke-width="1.4"/>
<text x="0" y="0" transform="translate(197.20,372.80) scale(1,1.08)" font-size="7.5" fill="#333" stroke="#333" stroke-width="0.2" text-anchor="end" font-weight="normal" >0.2</text>
<line x1="197.7" y1="329.90" x2="200.5" y2="329.90" stroke="#222" stroke-width="1.4"/>
<text x="0" y="0" transform="translate(197.20,332.80) scale(1,1.08)" font-size="7.5" fill="#333" stroke="#333" stroke-width="0.2" text-anchor="end" font-weight="normal" >0.4</text>
<line x1="229.60" y1="446.0" x2="229.60" y2="448.8" stroke="#222" stroke-width="1.4"/>
<text x="0" y="0" transform="translate(229.60,455.20) scale(1,1.08)" font-size="7.5" fill="#333" stroke="#333" stroke-width="0.2" text-anchor="middle" font-weight="normal" >2.5</text>
<line x1="275.35" y1="446.0" x2="275.35" y2="448.8" stroke="#222" stroke-width="1.4"/>
<text x="0" y="0" transform="translate(275.35,455.20) scale(1,1.08)" font-size="7.5" fill="#333" stroke="#333" stroke-width="0.2" text-anchor="middle" font-weight="normal" >5.0</text>
<line x1="321.10" y1="446.0" x2="321.10" y2="448.8" stroke="#222" stroke-width="1.4"/>
<text x="0" y="0" transform="translate(321.10,455.20) scale(1,1.08)" font-size="7.5" fill="#333" stroke="#333" stroke-width="0.2" text-anchor="middle" font-weight="normal" >7.5</text>
<text x="0" y="0" transform="translate(274.90,462.60) scale(1,1.08)" font-size="7.6" fill="#333" stroke="#333" stroke-width="0.2" text-anchor="middle" font-weight="normal" >miR-143-3p</text>
<text x="0" y="0" font-size="7.25" fill="#333" stroke="#333" stroke-width="0.2" text-anchor="middle" transform="translate(183.0,368.9) rotate(-90)">Semen density</text>
<text x="208.0" y="438.4" font-size="7.4" fill="#222" stroke="#222" stroke-width="0.2"><tspan x="208.3" font-style="italic">R</tspan><tspan x="214.6" font-size="6.6">=</tspan><tspan x="219.5">-0.8</tspan><tspan x="232.4">,</tspan><tspan x="238.3" font-style="italic">p</tspan><tspan x="242.5" font-size="6.6">=</tspan><tspan x="247.0">0.0016</tspan></text>
<polygon points="401.00,298.60 404.46,301.50 407.92,304.36 411.37,307.17 414.83,309.92 418.29,312.61 421.75,315.23 425.20,317.77 428.66,320.22 432.12,322.58 435.57,324.82 439.03,326.95 442.49,328.96 445.95,330.85 449.40,332.61 452.86,334.25 456.32,335.77 459.78,337.18 463.23,338.49 466.69,339.71 470.15,340.84 473.61,341.90 477.06,342.89 480.52,343.83 483.98,344.71 487.44,345.54 490.89,346.34 494.35,347.10 497.81,347.84 501.27,348.54 504.72,349.22 508.18,349.88 511.64,350.53 515.10,351.15 518.55,351.76 522.01,352.36 525.47,352.94 528.93,353.52 532.38,354.08 535.84,354.64 539.30,355.19 539.30,439.61 535.84,436.44 532.38,433.28 528.93,430.12 525.47,426.98 522.01,423.84 518.55,420.72 515.10,417.61 511.64,414.51 508.18,411.44 504.72,408.38 501.27,405.34 497.81,402.32 494.35,399.34 490.89,396.38 487.44,393.46 483.98,390.57 480.52,387.73 477.06,384.95 473.61,382.22 470.15,379.56 466.69,376.97 463.23,374.47 459.78,372.06 456.32,369.75 452.86,367.55 449.40,365.47 445.95,363.51 442.49,361.68 439.03,359.97 435.57,358.38 432.12,356.90 428.66,355.54 425.20,354.27 421.75,353.09 418.29,351.99 414.83,350.96 411.37,349.99 407.92,349.08 404.46,348.22 401.00,347.40" fill="#f6a88f"/>
<circle cx="422.5" cy="299.0" r="1.95" fill="#151515"/>
<circle cx="400.7" cy="313.6" r="1.95" fill="#151515"/>
<circle cx="403.2" cy="314.3" r="1.95" fill="#151515"/>
<circle cx="426.8" cy="310.7" r="1.95" fill="#151515"/>
<circle cx="455.0" cy="336.4" r="1.95" fill="#151515"/>
<circle cx="496.8" cy="345.1" r="1.95" fill="#151515"/>
<circle cx="431.4" cy="352.7" r="1.95" fill="#151515"/>
<circle cx="424.6" cy="361.4" r="1.95" fill="#151515"/>
<circle cx="424.6" cy="364.1" r="1.95" fill="#151515"/>
<circle cx="432.2" cy="367.9" r="1.95" fill="#151515"/>
<circle cx="482.3" cy="386.9" r="1.95" fill="#151515"/>
<circle cx="539.3" cy="402.8" r="1.95" fill="#151515"/>
<line x1="401.0" y1="323.0" x2="539.3" y2="397.4" stroke="#e2302a" stroke-width="2.1"/>
<line x1="393.9" y1="292.4" x2="393.9" y2="446.6" stroke="#333" stroke-width="1.35"/>
<line x1="393.4" y1="446.0" x2="546.4" y2="446.0" stroke="#333" stroke-width="1.35"/>
<line x1="391.09999999999997" y1="421.30" x2="393.9" y2="421.30" stroke="#222" stroke-width="1.4"/>
<text x="0" y="0" transform="translate(390.60,424.20) scale(1,1.08)" font-size="7.5" fill="#333" stroke="#333" stroke-width="0.2" text-anchor="end" font-weight="normal" >10</text>
<line x1="391.09999999999997" y1="385.30" x2="393.9" y2="385.30" stroke="#222" stroke-width="1.4"/>
<text x="0" y="0" transform="translate(390.60,388.20) scale(1,1.08)" font-size="7.5" fill="#333" stroke="#333" stroke-width="0.2" text-anchor="end" font-weight="normal" >20</text>
<line x1="391.09999999999997" y1="349.30" x2="393.9" y2="349.30" stroke="#222" stroke-width="1.4"/>
<text x="0" y="0" transform="translate(390.60,352.20) scale(1,1.08)" font-size="7.5" fill="#333" stroke="#333" stroke-width="0.2" text-anchor="end" font-weight="normal" >30</text>
<line x1="391.09999999999997" y1="313.30" x2="393.9" y2="313.30" stroke="#222" stroke-width="1.4"/>
<text x="0" y="0" transform="translate(390.60,316.20) scale(1,1.08)" font-size="7.5" fill="#333" stroke="#333" stroke-width="0.2" text-anchor="end" font-weight="normal" >40</text>
<line x1="423.10" y1="446.0" x2="423.10" y2="448.8" stroke="#222" stroke-width="1.4"/>
<text x="0" y="0" transform="translate(423.10,455.20) scale(1,1.08)" font-size="7.5" fill="#333" stroke="#333" stroke-width="0.2" text-anchor="middle" font-weight="normal" >2.5</text>
<line x1="469.60" y1="446.0" x2="469.60" y2="448.8" stroke="#222" stroke-width="1.4"/>
<text x="0" y="0" transform="translate(469.60,455.20) scale(1,1.08)" font-size="7.5" fill="#333" stroke="#333" stroke-width="0.2" text-anchor="middle" font-weight="normal" >5.0</text>
<line x1="516.10" y1="446.0" x2="516.10" y2="448.8" stroke="#222" stroke-width="1.4"/>
<text x="0" y="0" transform="translate(516.10,455.20) scale(1,1.08)" font-size="7.5" fill="#333" stroke="#333" stroke-width="0.2" text-anchor="middle" font-weight="normal" >7.5</text>
<text x="0" y="0" transform="translate(469.90,462.60) scale(1,1.08)" font-size="7.6" fill="#333" stroke="#333" stroke-width="0.2" text-anchor="middle" font-weight="normal" >miR-143-3p</text>
<text x="0" y="0" font-size="7.25" fill="#333" stroke="#333" stroke-width="0.2" text-anchor="middle" transform="translate(375.4,368.5) rotate(-90)">Sperm mobility</text>
<text x="402.1" y="438.0" font-size="7.4" fill="#222" stroke="#222" stroke-width="0.2"><tspan x="403.2" font-style="italic">R</tspan><tspan x="408.5" font-size="6.6">=</tspan><tspan x="412.3">-0.69</tspan><tspan x="429.2">,</tspan><tspan x="433.6" font-style="italic">p</tspan><tspan x="438.4" font-size="6.6">=</tspan><tspan x="443.3">0.013</tspan></text>
</svg></body></html>
